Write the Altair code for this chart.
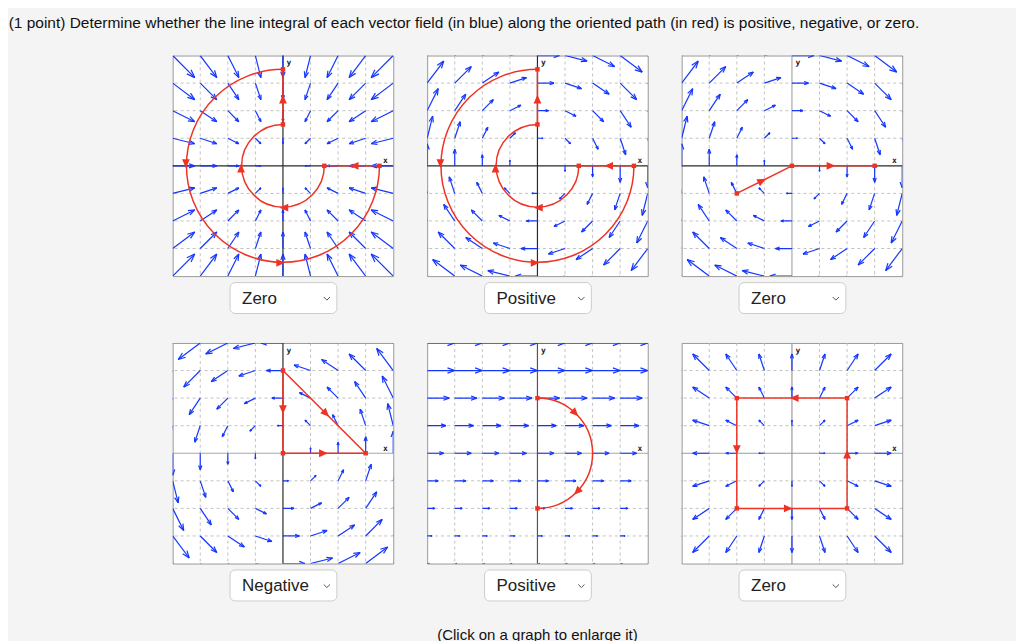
import math
import altair as alt
import pandas as pd

# ---------------- data ----------------
TITLE = ("(1 point) Determine whether the line integral of each vector field (in blue) "
         "along the oriented path (in red) is positive, negative, or zero.")
FOOT = "(Click on a graph to enlarge it)"
ANSWERS = ["Zero", "Positive", "Zero", "Negative", "Positive", "Zero"]

GRID_POS = [-4, -3, -2, -1, 0, 1, 2, 3, 4]        # arrow tails
GRID_LINES = [-3, -2, -1, 1, 2, 3]                # dashed grid lines

# linear fields F = (a*x + b*y, c*x + d*y), read from arrow directions
FIELD_COEF = [(-1, 0, 0, -1), (0, 1, -1, 0), (0, 1, -1, 0), (0, -1, 1, 0), None, (1, 0, 0, 1)]
ARROW_SCALE = 0.2
# panel 5: horizontal field, x-component per row y = -4..4
P5_ROW_U = [0.4, 0.9, 1.35, 2.0, 3.0, 3.4, 4.0, 5.0, 5.0]

# red path pieces per panel
SEGMENTS = [
    [(3.5, 0, 1.5, 0), (0, 1.5, 0, 3.5)],
    [(3.5, 0, 1.5, 0), (0, 1.5, 0, 3.5)],
    [(-2, -1, 0, 0), (0, 0, 3, 0)],
    [(0, 3, 0, 0), (0, 0, 3, 0), (3, 0, 0, 3)],
    [],
    [(-2, -2, 2, -2), (2, -2, 2, 2), (2, 2, -2, 2), (-2, 2, -2, -2)],
]
# arcs centred at origin: radius, start, end (degrees clockwise from 12 o'clock)
ARCS = [
    [(1.5, 90, 360), (3.5, 90, 360)],
    [(1.5, 90, 360), (3.5, 90, 360)],
    [], [],
    [(2.0, 0, 180)],
    [],
]
# direction markers: x, y, heading (degrees clockwise from up)
PATH_ARROWS = [
    [(2.6, 0, 270), (0.05, -1.52, 270), (-1.52, -0.1, 0), (0, 2.4, 0), (-3.52, 0.1, 180), (-0.1, -3.52, 90)],
    [(2.6, 0, 270), (0.05, -1.52, 270), (-1.52, -0.1, 0), (0, 2.4, 0), (-3.52, 0.1, 180), (-0.1, -3.52, 90)],
    [(-1.1, -0.55, 63), (1.4, 0, 90)],
    [(0, 1.6, 180), (1.45, 0, 90), (1.55, 1.45, 135)],
    [(1.36, 1.47, 135), (1.45, -1.38, 225)],
    [(-0.15, -2, 90), (2, -0.05, 0), (0.1, 2, 270), (-2, 0.15, 180)],
]
PATH_POINTS = [
    [(3.5, 0), (1.5, 0), (0, 1.5), (0, 3.5)],
    [(3.5, 0), (1.5, 0), (0, 1.5), (0, 3.5)],
    [(-2, -1), (0, 0), (3, 0)],
    [(0, 3), (0, 0), (3, 0)],
    [(0, 2), (0, -2)],
    [(-2, -2), (2, -2), (2, 2), (-2, 2)],
]
AXIS_X_COLOR = ["#2a2a2a", "#2a2a2a", "#2a2a2a", "#a8a8a8", "#a8a8a8", "#9a9a9a"]
AXIS_Y_COLOR = ["#2a2a2a", "#2a2a2a", "#a8a8a8", "#2a2a2a", "#555555", "#9a9a9a"]

# ---------------- styling ----------------
W = 221
BLUE = "#1436ff"
RED = "#ee3324"
FONT = "Liberation Sans"
HEAD_FRAC = 0.28
HEAD_DEG = 20
TRI = "M0,-1L-0.8,0.8L0.8,0.8Z"
CHEV = "M-1,-0.5L0,0.5L1,-0.5"


def arrow_table(i):
    rows = []
    for gx in GRID_POS:
        for gy in GRID_POS:
            if FIELD_COEF[i] is None:
                u, v = P5_ROW_U[GRID_POS.index(gy)], 0.0
            else:
                a, b, c, d = FIELD_COEF[i]
                u, v = a * gx + b * gy, c * gx + d * gy
            dx, dy = ARROW_SCALE * u, ARROW_SCALE * v
            L = math.hypot(dx, dy)
            if L < 1e-9:
                continue
            tx, ty = gx + dx, gy + dy
            rows.append((gx, gy, tx, ty))
            bx, by = -dx / L, -dy / L
            h = HEAD_FRAC * L
            for s in (1, -1):
                ang = math.radians(s * HEAD_DEG)
                rx = bx * math.cos(ang) - by * math.sin(ang)
                ry = bx * math.sin(ang) + by * math.cos(ang)
                rows.append((tx, ty, tx + h * rx, ty + h * ry))
    return pd.DataFrame(rows, columns=["x0", "y0", "x1", "y1"])


def panel(i):
    xs = alt.Scale(domain=[-4, 4], nice=False, zero=False)
    ys = alt.Scale(domain=[-4, 4], nice=False, zero=False)

    def X(f):
        return alt.X(f, type="quantitative", scale=xs, axis=None)

    def Y(f):
        return alt.Y(f, type="quantitative", scale=ys, axis=None)

    layers = []
    gdf = pd.DataFrame({"g": GRID_LINES})
    layers.append(alt.Chart(gdf).mark_rule(color="#c2c2c2", strokeDash=[3, 3], strokeWidth=1).encode(x=X("g")))
    layers.append(alt.Chart(gdf).mark_rule(color="#c2c2c2", strokeDash=[3, 3], strokeWidth=1).encode(y=Y("g")))
    zdf = pd.DataFrame({"z": [0]})
    layers.append(alt.Chart(zdf).mark_rule(color=AXIS_X_COLOR[i], strokeWidth=1.2).encode(y=Y("z")))
    layers.append(alt.Chart(zdf).mark_rule(color=AXIS_Y_COLOR[i], strokeWidth=1.2).encode(x=X("z")))

    # vector field
    layers.append(
        alt.Chart(arrow_table(i)).mark_rule(clip=True, color=BLUE, strokeWidth=1.2)
        .encode(x=X("x0"), y=Y("y0"), x2=alt.X2("x1"), y2=alt.Y2("y1"))
    )

    # red path
    if SEGMENTS[i]:
        sdf = pd.DataFrame(SEGMENTS[i], columns=["x0", "y0", "x1", "y1"])
        layers.append(
            alt.Chart(sdf).mark_rule(color=RED, strokeWidth=1.5)
            .encode(x=X("x0"), y=Y("y0"), x2=alt.X2("x1"), y2=alt.Y2("y1"))
        )
    if ARCS[i]:
        adf = pd.DataFrame(ARCS[i], columns=["r", "d0", "d1"])
        adf["cx"] = 0.0
        adf["cy"] = 0.0
        adf["t0"] = adf["d0"] * math.pi / 180
        adf["t1"] = adf["d1"] * math.pi / 180
        layers.append(
            alt.Chart(adf).mark_arc(filled=False, color=RED, stroke=RED, strokeWidth=1.5)
            .encode(
                x=X("cx"), y=Y("cy"),
                radius=alt.Radius("r:Q", scale=alt.Scale(type="linear", domain=[0, 8], range=[0, W])),
                radius2=alt.Radius2("r:Q"),
                theta=alt.Theta("t0:Q", scale=None, stack=None),
                theta2=alt.Theta2("t1:Q"),
            )
        )
    pdf = pd.DataFrame(PATH_POINTS[i], columns=["x", "y"])
    layers.append(alt.Chart(pdf).mark_square(size=20, color=RED, opacity=1).encode(x=X("x"), y=Y("y")))
    tdf = pd.DataFrame(PATH_ARROWS[i], columns=["x", "y", "a"])
    layers.append(
        alt.Chart(tdf).mark_point(shape=TRI, filled=True, size=95, color=RED, opacity=1)
        .encode(x=X("x"), y=Y("y"), angle=alt.Angle("a:Q", scale=None))
    )

    # axis letters
    ldf = pd.DataFrame({"x": [3.72, 0.22], "y": [0.17, 3.72], "t": ["x", "y"]})
    layers.append(
        alt.Chart(ldf).mark_text(font="DejaVu Sans Mono", fontSize=8, fontWeight="bold", color="#222")
        .encode(x=X("x"), y=Y("y"), text="t:N")
    )

    # answer drop-down
    ddf = pd.DataFrame({"label": [ANSWERS[i]]})
    layers.append(
        alt.Chart(ddf).mark_rect(fill="white", stroke="#cccccc", strokeWidth=1, cornerRadius=5)
        .encode(x=alt.value(57.5), x2=alt.value(164.5), y=alt.value(227.5), y2=alt.value(258.5))
    )
    layers.append(
        alt.Chart(ddf).mark_text(font=FONT, fontSize=17, align="left", baseline="middle", color="#222")
        .encode(x=alt.value(69.5), y=alt.value(244), text="label:N")
    )
    layers.append(
        alt.Chart(ddf).mark_point(shape=CHEV, filled=False, size=40, color="#555", strokeWidth=1, opacity=1)
        .encode(x=alt.value(154.5), y=alt.value(243.5))
    )

    if i == 0:
        layers.append(
            alt.Chart(pd.DataFrame({"t": [TITLE]})).mark_text(
                font=FONT, fontSize=15.5, align="left", baseline="alphabetic", color="#111")
            .encode(x=alt.value(-164.3), y=alt.value(-27.5), text="t:N")
        )
    if i == 4:
        layers.append(
            alt.Chart(pd.DataFrame({"t": [FOOT]})).mark_text(
                font=FONT, fontSize=15, align="center", baseline="alphabetic", color="#111")
            .encode(x=alt.value(110.5), y=alt.value(297.5), text="t:N")
        )
    return alt.layer(*layers).properties(width=W, height=W)


panels = [panel(i) for i in range(6)]
chart = (
    alt.concat(*panels, columns=3, spacing={"row": 67, "column": 34}, bounds="flush")
    .properties(padding={"left": 0, "top": 7, "right": 95, "bottom": 0})
    .configure(background="#f4f4f4")
    .configure_view(stroke="#9a9a9a", strokeWidth=1, fill="white")
)

chart.save("out.html", embed_options={"renderer": "svg", "actions": False})
